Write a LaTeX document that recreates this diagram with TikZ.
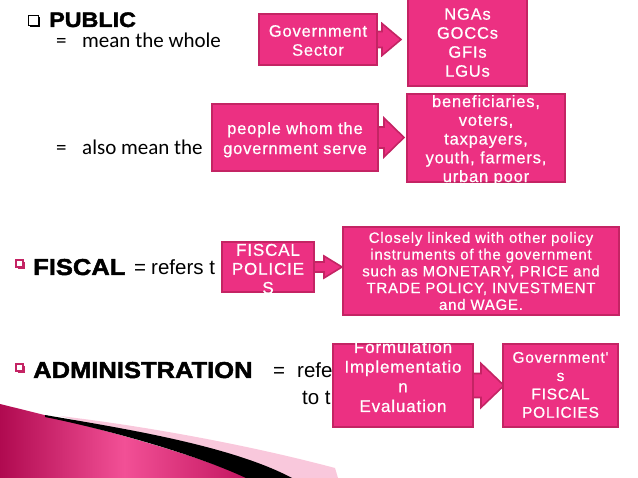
\documentclass[tikz,border=0pt]{standalone}
\usepackage{fontspec}
\setmainfont{Liberation Sans}
\newfontfamily\calfont{Carlito}
\newfontfamily\boxfont[LetterSpace=5,FakeBold=0.6]{Liberation Sans}
\newfontfamily\blackfont[FakeStretch=1.11,FakeBold=2]{Liberation Sans Bold}
\usetikzlibrary{calc,shadows,backgrounds}
\definecolor{pfill}{RGB}{236,48,130}
\definecolor{pborder}{RGB}{196,36,100}
\definecolor{plight}{RGB}{249,200,220}
\definecolor{pdark}{RGB}{176,10,80}
\definecolor{pbright}{RGB}{242,80,150}
\newcommand\blockarrow[6]{%
  \path[parrow] let \p1=(#1.center), \p2=(#1.east), \p3=(#2.west) in
  (\x2-6pt,\y1+#3) -- (\x3-#6-#5,\y1+#3) -- (\x3-#6-#5,\y1+#4) -- (\x3-#6,\y1)
  -- (\x3-#6-#5,\y1-#4) -- (\x3-#6-#5,\y1-#3) -- (\x2-6pt,\y1-#3) -- cycle;}
\begin{document}
\begin{tikzpicture}[x=1pt,y=-1pt,
  pbox/.style={draw=pborder,fill=pfill,line width=2pt,inner sep=0pt},
  ptext/.style={text=white,align=center,inner sep=0pt},
  parrow/.style={draw=pborder,fill=pfill,line width=1.6pt,line join=miter},
  headtxt/.style={anchor=base west,inner sep=0pt,text=black},
  calfnt/.style={font=\calfont\fontsize{21}{24}\selectfont},
  arfnt/.style={font=\fontsize{20.5}{24}\selectfont},
  blkfnt/.style={font=\blackfont\fontsize{23}{26}\selectfont},
  chkbox/.style={draw=#1,fill=white,line width=1.2pt,inner sep=0pt,
    drop shadow={shadow xshift=1.6pt,shadow yshift=-1.6pt,fill=#1,opacity=1}}]
\useasboundingbox (0,0) rectangle (638,478);

% headings
\node[chkbox=black,minimum size=10pt] (chkpub) at (33.5,20.5) {};
\node[headtxt,font=\blackfont\fontsize{21}{24}\selectfont] (pub) at (49,27) {PUBLIC};
\node[headtxt,calfnt] (eq1) at (56,48) {=};
\node[headtxt,calfnt] (mean1) at (82,48) {mean the whole};
\node[headtxt,calfnt] (eq2) at (56,155) {=};
\node[headtxt,calfnt] (mean2) at (82,155) {also mean the};

\node[chkbox=pborder,minimum size=7pt] (chkfis) at (19.5,263.5) {};
\node[headtxt,blkfnt] (fis) at (33,275) {FISCAL};
\node[headtxt,arfnt] (eq3) at (134,275) {=};
\node[headtxt,arfnt] (ref3) at (151,275) {refers t};

\node[chkbox=pborder,minimum size=7pt] (chkadm) at (19.5,367.5) {};
\node[headtxt,blkfnt] (adm) at (33,378) {ADMINISTRATION};
\node[headtxt,arfnt] (eq4) at (273,378) {=};
\node[headtxt,arfnt] (ref4) at (297,378) {refe};
\node[headtxt,arfnt] (tot) at (302,405) {to t};

% boxes
\node[pbox,minimum width=118pt,minimum height=51pt] (gs) at (318,39.5) {};
\node[pbox,minimum width=119pt,minimum height=88pt] (nga) at (467.5,42) {};
\node[pbox,minimum width=166pt,minimum height=67pt] (pw) at (295,137.5) {};
\node[pbox,minimum width=158pt,minimum height=88pt] (ben) at (486,138) {};
\node[pbox,minimum width=92pt,minimum height=50pt] (fp) at (268,267) {};
\node[pbox,minimum width=276pt,minimum height=88pt] (cl) at (481,271) {};
\node[pbox,minimum width=140pt,minimum height=83pt] (form) at (403,385.5) {};
\node[pbox,minimum width=115pt,minimum height=83pt] (gov) at (560.5,385.5) {};

% box texts
\node[ptext,font=\boxfont\fontsize{16.5}{19}\selectfont] (gst) at (318,40.5) {Government\\Sector};
\node[ptext,font=\boxfont\fontsize{16.5}{19}\selectfont] (ngat) at (467.5,42.5) {NGAs\\GOCCs\\GFIs\\LGUs};
\node[ptext,font=\boxfont\fontsize{16.5}{20}\selectfont] (pwt) at (295,139.75) {people whom the\\government serve};
\node[ptext,font=\boxfont\fontsize{16.5}{18.75}\selectfont] (bent) at (486,140.25) {beneficiaries,\\voters,\\taxpayers,\\youth, farmers,\\urban poor};
\node[ptext,font=\boxfont\fontsize{17}{19}\selectfont] (fpt) at (268,268.9) {FISCAL\\POLICIE\\S};
\node[ptext,font=\boxfont\fontsize{15}{16.75}\selectfont] (clt) at (481,271) {Closely linked with other policy\\instruments of the government\\such as MONETARY, PRICE and\\TRADE POLICY, INVESTMENT\\and WAGE.};
\node[ptext,font=\boxfont\fontsize{17}{19.67}\selectfont] (formt) at (403,376.4) {Formulation\\Implementatio\\n\\Evaluation};
\node[ptext,font=\boxfont\fontsize{15.5}{18.33}\selectfont] (govt) at (560.5,384.9) {Government'\\s\\FISCAL\\POLICIES};

\begin{pgfonlayer}{background}
  % swoosh
  \fill[plight] (60,416) .. controls (160,428) and (260,448) .. (335,468) -- (338,478) -- (292,478) -- cycle;
  \shade[left color=pdark,right color=pdark!70!pfill,middle color=pbright]
    (0,404) .. controls (90,426) and (190,452) .. (248,478) -- (0,478) -- cycle;
  \fill[black] (45,415) .. controls (120,428) and (230,445) .. (292,478) -- (246,478)
    .. controls (190,452) and (100,428) .. (45,417) -- cycle;
  % arrows
  \blockarrow{gs}{nga}{8pt}{16pt}{19pt}{6pt}
  \blockarrow{pw}{ben}{10.5pt}{19.5pt}{20pt}{2pt}
  \blockarrow{fp}{cl}{5pt}{11pt}{18pt}{0pt}
  \blockarrow{form}{gov}{12pt}{22pt}{23pt}{-2pt}
\end{pgfonlayer}
\end{tikzpicture}
\end{document}
